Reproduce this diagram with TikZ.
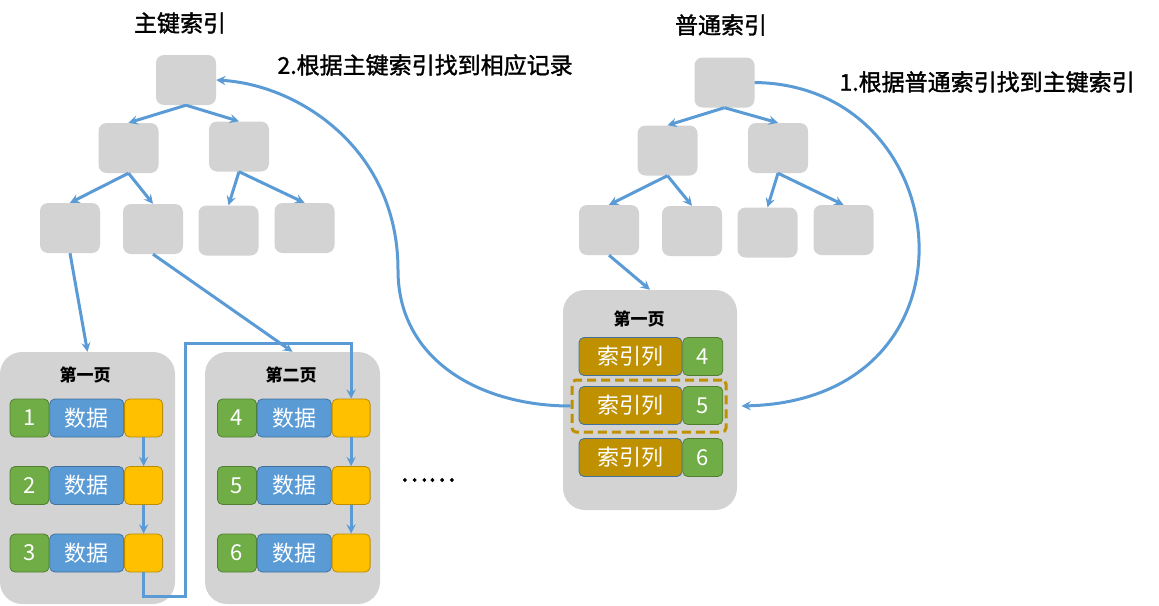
\documentclass[tikz,border=0pt]{standalone}
\usepackage{fontspec}
\setmainfont{Noto Sans CJK SC}
\newfontfamily\headfont{Noto Sans CJK SC}[FakeBold=1.5]
\usetikzlibrary{positioning}
\definecolor{boxgray}{HTML}{D3D3D3}
\definecolor{lineblue}{HTML}{5B9BD5}
\definecolor{keygreen}{HTML}{70AD47}
\definecolor{keyedge}{HTML}{507E32}
\definecolor{datablue}{HTML}{5B9BD5}
\definecolor{dataedge}{HTML}{41719C}
\definecolor{ptryellow}{HTML}{FFC000}
\definecolor{ptredge}{HTML}{BC8C00}
\definecolor{colbrown}{HTML}{BF9000}

\begin{document}
\begin{tikzpicture}[x=1pt, y=-1pt, >=stealth,
    tree node/.style={fill=boxgray, rounded corners=8pt, minimum width=60pt, minimum height=50pt},
    pagebox/.style={fill=boxgray, rounded corners=22pt},
    cell/.style={draw, rounded corners=5pt, inner sep=0pt, minimum height=38pt, line width=0.8pt,
      text=white, font=\fontsize{22}{22}\selectfont},
    keybox/.style={cell, fill=keygreen, draw=keyedge, minimum width=39pt},
    databox/.style={cell, fill=datablue, draw=dataedge, minimum width=74pt},
    ptrbox/.style={cell, fill=ptryellow, draw=ptredge, minimum width=38pt},
    colbox/.style={cell, fill=colbrown, draw=dataedge, minimum width=103pt},
    linkarrow/.style={->, draw=lineblue, line width=3pt},
    headline/.style={font=\headfont\fontsize{23}{23}\selectfont},
    page title/.style={font=\bfseries\fontsize{17}{17}\selectfont}]
        \useasboundingbox (0,0) rectangle (1159,605);
        % two b+ trees
        \foreach \m/\x/\y in {r/186/80, a/128.5/148, b/239/146.5, 1/70/228, 2/153/229, 3/228.5/230.5, 4/304.5/228}
          \node [tree node] (pk-\m) at (\x,\y) {};
        \foreach \m/\x/\y in {r/724.5/82.5, a/667.5/150.5, b/778/148, 1/609/230, 2/692/231, 3/767.5/232.5, 4/843.5/230}
          \node [tree node] (ix-\m) at (\x,\y) {};
        \foreach \t in {pk, ix}
          \foreach \i/\j in {r/a, r/b, a/1, a/2, b/3, b/4}
            \draw [linkarrow] (\t-\i.south) -- (\t-\j.north);
        \node [headline] (pk-title) at (180,23) {主键索引};
        \node [headline] (ix-title) at (721,25) {普通索引};
        % pages
        \node [pagebox, minimum width=175pt, minimum height=252pt] (page-1) at (87.5,478) {};
        \node [pagebox, minimum width=175pt, minimum height=252pt] (page-2) at (292.5,478) {};
        \node [pagebox, minimum width=174pt, minimum height=220pt] (page-ix) at (650,400) {};
        \node [page title] (title-1) at (85,375) {第一页};
        \node [page title] (title-2) at (291,375) {第二页};
        \node [page title] (title-ix) at (639,319) {第一页};
        \foreach \n/\y [count=\i] in {1/418, 2/485.5, 3/553} {
          \node [keybox] (k1-\i) at (29.5,\y) {\n};
          \node [databox, right=0pt of k1-\i] (d1-\i) {数据};
          \node [ptrbox, right=0pt of d1-\i] (p1-\i) {};
        }
        \foreach \n/\y [count=\i] in {4/418, 5/485.5, 6/553} {
          \node [keybox] (k2-\i) at (237,\y) {\n};
          \node [databox, right=0pt of k2-\i] (d2-\i) {数据};
          \node [ptrbox, right=0pt of d2-\i] (p2-\i) {};
        }
        \foreach \n/\y [count=\i] in {4/356.5, 5/405.5, 6/457.5} {
          \node [colbox] (c-\i) at (630.5,\y) {索引列};
          \node [keybox, minimum width=40pt, right=0pt of c-\i] (k3-\i) {\n};
        }
        \node [draw=colbrown, dash pattern=on 9pt off 5pt, line width=3pt, rounded corners=4pt,
          minimum width=154pt, minimum height=52pt] (sel) at (649,406) {};
        \node [font=\headfont\fontsize{26}{26}\selectfont] (more) at (428,480) {……};
        % links
        \draw [linkarrow] (pk-1.south) -- (page-1.north);
        \draw [linkarrow] (pk-2.south) -- (page-2.north);
        \draw [linkarrow] (ix-1.south) -- (page-ix.north);
        \foreach \p in {1,2}
          \foreach \i/\j in {1/2, 2/3}
            \draw [linkarrow] (p\p-\i.south) -- (p\p-\j.north);
        \coordinate (hop) at (185,343);
        \draw [linkarrow] (p1-3.south) -- ++(0,24) -| (hop) -| (p2-1.north);
        \coordinate (sel-tip) at ([xshift=14pt]sel.east);
        \draw [linkarrow] (ix-r.east) .. controls (960,85) and (990,400) .. (sel-tip);
        \draw [linkarrow] (sel.west) .. controls (480,406) and (398,360) .. (398,270)
          .. controls (398,150) and (300,85) .. (pk-r.east);
        \node [headline, anchor=west] (step-2) at (274,65) {2.根据主键索引找到相应记录};
        \node [headline, anchor=west] (step-1) at (836,82) {1.根据普通索引找到主键索引};
    \end{tikzpicture}
\end{document}
